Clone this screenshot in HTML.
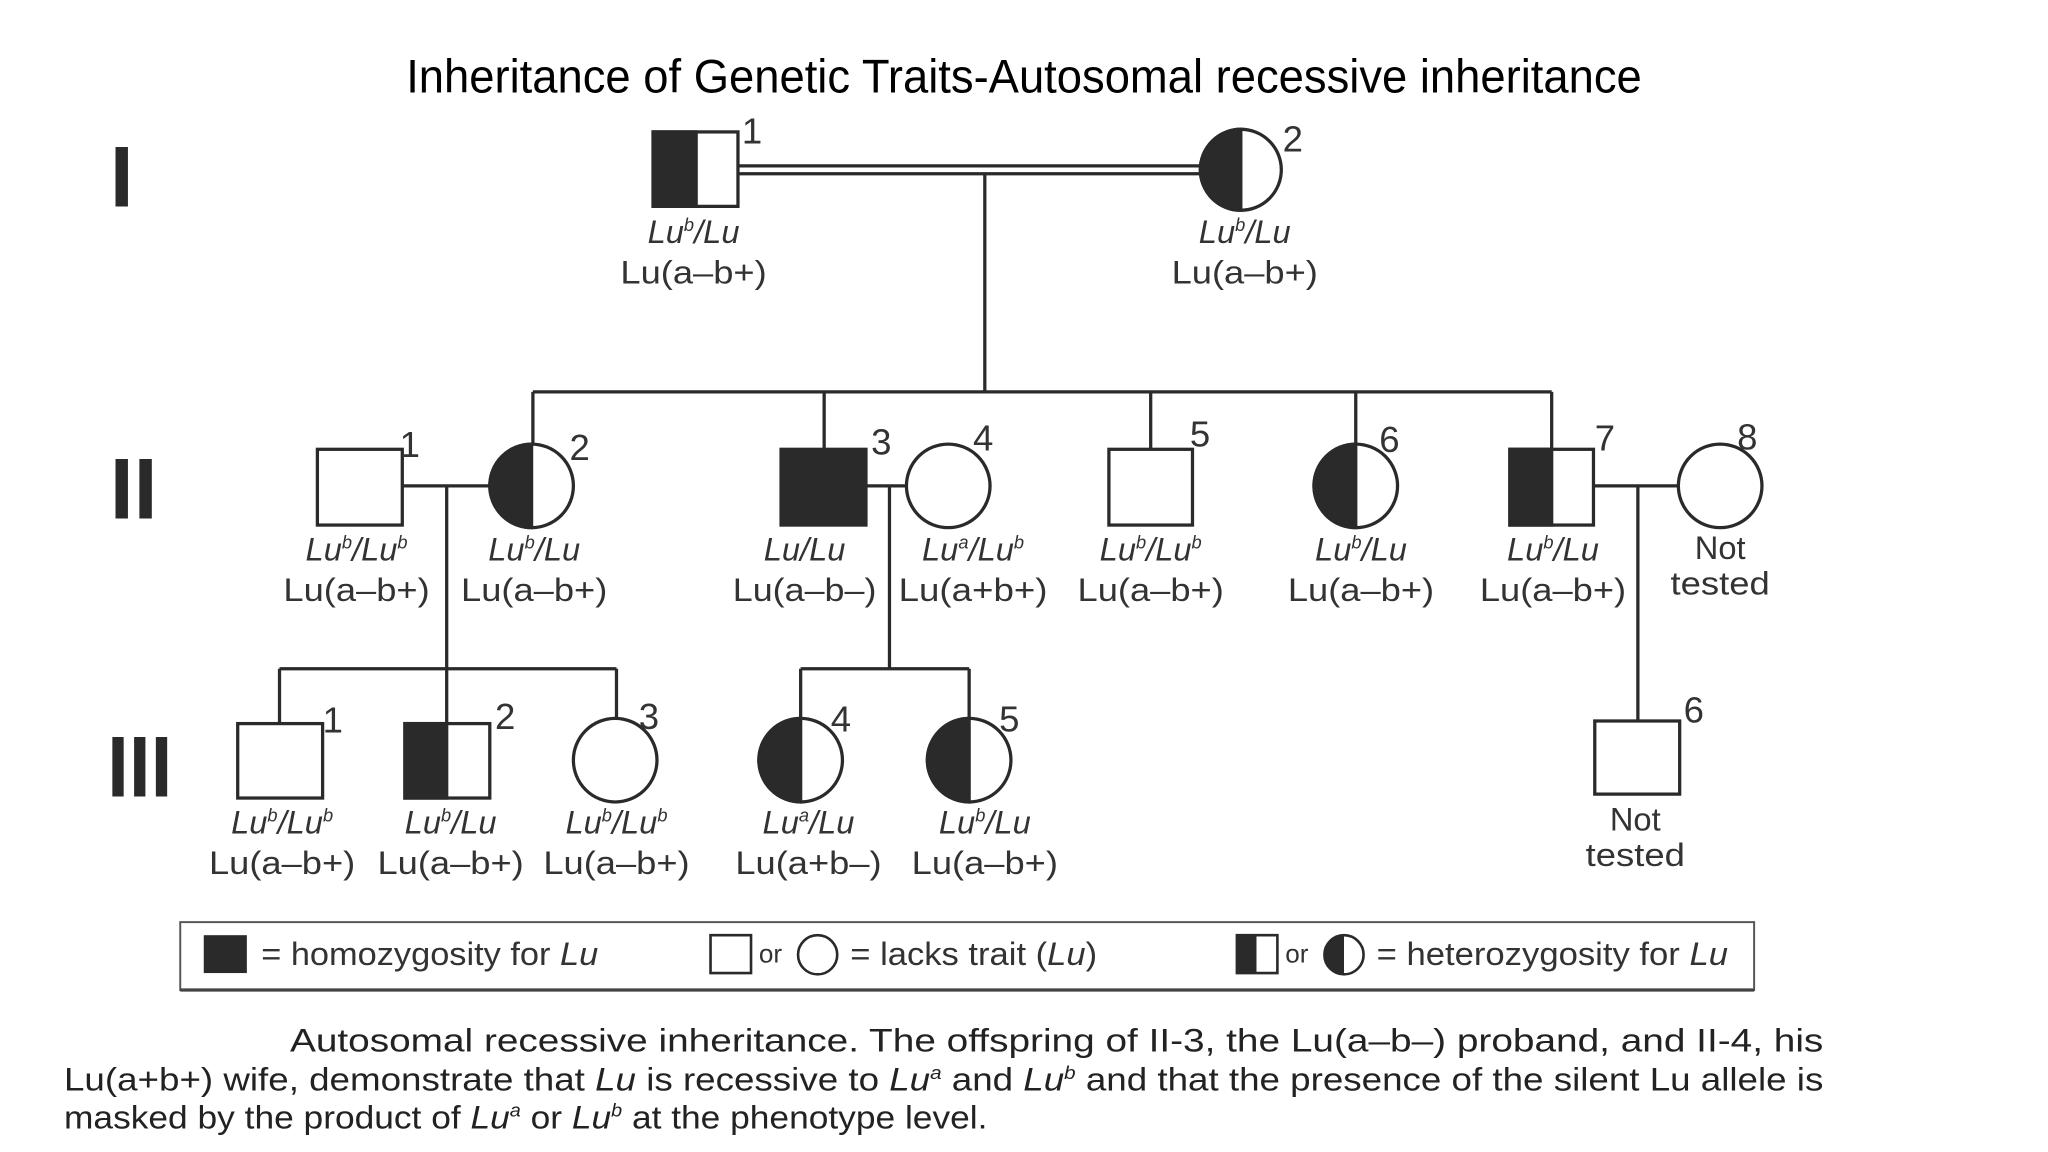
<!DOCTYPE html>
<html><head><meta charset="utf-8"><style>
html,body{margin:0;padding:0;background:#fff;}
svg{display:block;}
text{font-family:"Liberation Sans",sans-serif;fill:#333;}
.g{font-style:italic;font-size:25px;}
.p{font-size:25px;}
.n{font-size:28px;fill:#333;}
.r{font-weight:bold;font-size:66px;fill:#2a2a2a;}
.c{font-size:25px;fill:#222;}
</style></head><body>
<svg width="2048" height="1152" viewBox="0 0 1568 882" xmlns="http://www.w3.org/2000/svg">
<rect width="1568" height="882" fill="#fff"/>
<text x="784" y="71" text-anchor="middle" style="font-size:36px;fill:#000" textLength="946" lengthAdjust="spacingAndGlyphs">Inheritance of Genetic Traits-Autosomal recessive inheritance</text>

<text class="r" x="84" y="158">I</text>
<text class="r" x="84" y="397">II</text>
<text class="r" x="82" y="610" textLength="50" lengthAdjust="spacingAndGlyphs">III</text>

<g stroke="#2a2a2a" stroke-width="2.5" fill="none">
<line x1="565" y1="127" x2="918" y2="127"/>
<line x1="565" y1="133" x2="918" y2="133"/>
<line x1="754" y1="133" x2="754" y2="300"/>
<line x1="408" y1="300" x2="1188" y2="300"/>
<line x1="408" y1="300" x2="408" y2="340"/>
<line x1="631" y1="300" x2="631" y2="344"/>
<line x1="881" y1="300" x2="881" y2="344"/>
<line x1="1038" y1="300" x2="1038" y2="340"/>
<line x1="1188" y1="300" x2="1188" y2="344"/>
<line x1="308" y1="372" x2="374" y2="372"/>
<line x1="342" y1="372" x2="342" y2="554"/>
<line x1="214" y1="512" x2="472" y2="512"/>
<line x1="214" y1="512" x2="214" y2="554"/>
<line x1="472" y1="512" x2="472" y2="550"/>
<line x1="663" y1="372" x2="694" y2="372"/>
<line x1="681" y1="372" x2="681" y2="512"/>
<line x1="613" y1="512" x2="742" y2="512"/>
<line x1="613" y1="512" x2="613" y2="550"/>
<line x1="742" y1="512" x2="742" y2="550"/>
<line x1="1220" y1="372" x2="1285" y2="372"/>
<line x1="1254" y1="372" x2="1254" y2="552"/>
</g>

<g stroke="#2a2a2a" stroke-width="2.5">
<rect x="500" y="101" width="65" height="57" fill="#fff"/>
<rect x="500" y="101" width="33" height="57" fill="#2a2a2a"/>
<circle cx="950" cy="130" r="31" fill="#fff"/>
<path d="M950 99 A31 31 0 0 0 950 161 Z" fill="#2a2a2a"/>
<rect x="243" y="344" width="65" height="58" fill="#fff"/>
<circle cx="407" cy="372" r="32" fill="#fff"/>
<path d="M407 340 A32 32 0 0 0 407 404 Z" fill="#2a2a2a"/>
<rect x="598" y="344" width="65" height="58" fill="#2a2a2a"/>
<circle cx="726" cy="372" r="32" fill="#fff"/>
<rect x="849" y="344" width="64" height="58" fill="#fff"/>
<circle cx="1038" cy="372" r="32" fill="#fff"/>
<path d="M1038 340 A32 32 0 0 0 1038 404 Z" fill="#2a2a2a"/>
<rect x="1156" y="344" width="64" height="58" fill="#fff"/>
<rect x="1156" y="344" width="32" height="58" fill="#2a2a2a"/>
<circle cx="1317" cy="372" r="32" fill="#fff"/>
<rect x="182" y="554" width="65" height="57" fill="#fff"/>
<rect x="310" y="554" width="65" height="57" fill="#fff"/>
<rect x="310" y="554" width="32" height="57" fill="#2a2a2a"/>
<circle cx="471" cy="582" r="32" fill="#fff"/>
<circle cx="613" cy="582" r="32" fill="#fff"/>
<path d="M613 550 A32 32 0 0 0 613 614 Z" fill="#2a2a2a"/>
<circle cx="742" cy="582" r="32" fill="#fff"/>
<path d="M742 550 A32 32 0 0 0 742 614 Z" fill="#2a2a2a"/>
<rect x="1221" y="552" width="65" height="56" fill="#fff"/>
</g>

<g>
<text class="n" x="568" y="110">1</text>
<text class="n" x="982" y="116">2</text>
<text class="n" x="306" y="350">1</text>
<text class="n" x="436" y="352">2</text>
<text class="n" x="667" y="348">3</text>
<text class="n" x="745" y="345">4</text>
<text class="n" x="911" y="342">5</text>
<text class="n" x="1056" y="346">6</text>
<text class="n" x="1221" y="345">7</text>
<text class="n" x="1330" y="344">8</text>
<text class="n" x="247" y="561">1</text>
<text class="n" x="379" y="558">2</text>
<text class="n" x="489" y="558">3</text>
<text class="n" x="636" y="560">4</text>
<text class="n" x="765" y="560">5</text>
<text class="n" x="1289" y="553">6</text>
</g>

<text class="g" x="531" y="186" text-anchor="middle">Lu<tspan font-size="14" dy="-9">b</tspan><tspan dy="9">/Lu</tspan></text>
<text class="p" x="531" y="217" text-anchor="middle" textLength="112" lengthAdjust="spacingAndGlyphs">Lu(a–b+)</text>
<text class="g" x="953" y="186" text-anchor="middle">Lu<tspan font-size="14" dy="-9">b</tspan><tspan dy="9">/Lu</tspan></text>
<text class="p" x="953" y="217" text-anchor="middle" textLength="112" lengthAdjust="spacingAndGlyphs">Lu(a–b+)</text>

<text class="g" x="273" y="429" text-anchor="middle">Lu<tspan font-size="14" dy="-9">b</tspan><tspan dy="9">/Lu</tspan><tspan font-size="14" dy="-9">b</tspan></text>
<text class="p" x="273" y="460" text-anchor="middle" textLength="112" lengthAdjust="spacingAndGlyphs">Lu(a–b+)</text>
<text class="g" x="409" y="429" text-anchor="middle">Lu<tspan font-size="14" dy="-9">b</tspan><tspan dy="9">/Lu</tspan></text>
<text class="p" x="409" y="460" text-anchor="middle" textLength="112" lengthAdjust="spacingAndGlyphs">Lu(a–b+)</text>
<text class="g" x="616" y="429" text-anchor="middle">Lu/Lu</text>
<text class="p" x="616" y="460" text-anchor="middle" textLength="110" lengthAdjust="spacingAndGlyphs">Lu(a–b–)</text>
<text class="g" x="745" y="429" text-anchor="middle">Lu<tspan font-size="14" dy="-9">a</tspan><tspan dy="9">/Lu</tspan><tspan font-size="14" dy="-9">b</tspan></text>
<text class="p" x="745" y="460" text-anchor="middle" textLength="114" lengthAdjust="spacingAndGlyphs">Lu(a+b+)</text>
<text class="g" x="881" y="429" text-anchor="middle">Lu<tspan font-size="14" dy="-9">b</tspan><tspan dy="9">/Lu</tspan><tspan font-size="14" dy="-9">b</tspan></text>
<text class="p" x="881" y="460" text-anchor="middle" textLength="112" lengthAdjust="spacingAndGlyphs">Lu(a–b+)</text>
<text class="g" x="1042" y="429" text-anchor="middle">Lu<tspan font-size="14" dy="-9">b</tspan><tspan dy="9">/Lu</tspan></text>
<text class="p" x="1042" y="460" text-anchor="middle" textLength="112" lengthAdjust="spacingAndGlyphs">Lu(a–b+)</text>
<text class="g" x="1189" y="429" text-anchor="middle">Lu<tspan font-size="14" dy="-9">b</tspan><tspan dy="9">/Lu</tspan></text>
<text class="p" x="1189" y="460" text-anchor="middle" textLength="112" lengthAdjust="spacingAndGlyphs">Lu(a–b+)</text>
<text class="p" x="1317" y="428" text-anchor="middle">Not</text>
<text class="p" x="1317" y="455" text-anchor="middle" textLength="76" lengthAdjust="spacingAndGlyphs">tested</text>

<text class="g" x="216" y="638" text-anchor="middle">Lu<tspan font-size="14" dy="-9">b</tspan><tspan dy="9">/Lu</tspan><tspan font-size="14" dy="-9">b</tspan></text>
<text class="p" x="216" y="669" text-anchor="middle" textLength="112" lengthAdjust="spacingAndGlyphs">Lu(a–b+)</text>
<text class="g" x="345" y="638" text-anchor="middle">Lu<tspan font-size="14" dy="-9">b</tspan><tspan dy="9">/Lu</tspan></text>
<text class="p" x="345" y="669" text-anchor="middle" textLength="112" lengthAdjust="spacingAndGlyphs">Lu(a–b+)</text>
<text class="g" x="472" y="638" text-anchor="middle">Lu<tspan font-size="14" dy="-9">b</tspan><tspan dy="9">/Lu</tspan><tspan font-size="14" dy="-9">b</tspan></text>
<text class="p" x="472" y="669" text-anchor="middle" textLength="112" lengthAdjust="spacingAndGlyphs">Lu(a–b+)</text>
<text class="g" x="619" y="638" text-anchor="middle">Lu<tspan font-size="14" dy="-9">a</tspan><tspan dy="9">/Lu</tspan></text>
<text class="p" x="619" y="669" text-anchor="middle" textLength="112" lengthAdjust="spacingAndGlyphs">Lu(a+b–)</text>
<text class="g" x="754" y="638" text-anchor="middle">Lu<tspan font-size="14" dy="-9">b</tspan><tspan dy="9">/Lu</tspan></text>
<text class="p" x="754" y="669" text-anchor="middle" textLength="112" lengthAdjust="spacingAndGlyphs">Lu(a–b+)</text>
<text class="p" x="1252" y="636" text-anchor="middle">Not</text>
<text class="p" x="1252" y="663" text-anchor="middle" textLength="76" lengthAdjust="spacingAndGlyphs">tested</text>

<rect x="138" y="706" width="1205" height="52" fill="none" stroke="#555" stroke-width="1.5"/>
<line x1="138" y1="758" x2="1343" y2="758" stroke="#444" stroke-width="2.5"/>
<rect x="156" y="716" width="33" height="29" fill="#2a2a2a"/>
<text class="p" x="200" y="739" textLength="258" lengthAdjust="spacingAndGlyphs">= homozygosity for <tspan font-style="italic">Lu</tspan></text>
<rect x="544" y="716" width="31" height="29" fill="#fff" stroke="#2a2a2a" stroke-width="2"/>
<text x="581" y="737" style="font-size:20px">or</text>
<circle cx="626" cy="731" r="15" fill="#fff" stroke="#2a2a2a" stroke-width="2"/>
<text class="p" x="651" y="739" textLength="189" lengthAdjust="spacingAndGlyphs">= lacks trait (<tspan font-style="italic">Lu</tspan>)</text>
<rect x="947" y="716" width="31" height="29" fill="#fff" stroke="#2a2a2a" stroke-width="2"/>
<rect x="947" y="716" width="15" height="29" fill="#2a2a2a"/>
<text x="984" y="737" style="font-size:20px">or</text>
<circle cx="1029" cy="731" r="15" fill="#fff" stroke="#2a2a2a" stroke-width="2"/>
<path d="M1029 716 A15 15 0 0 0 1029 746 Z" fill="#2a2a2a"/>
<text class="p" x="1054" y="739" textLength="269" lengthAdjust="spacingAndGlyphs">= heterozygosity for <tspan font-style="italic">Lu</tspan></text>

<text class="c" x="222" y="805" textLength="1174" lengthAdjust="spacingAndGlyphs">Autosomal recessive inheritance. The offspring of II-3, the Lu(a–b–) proband, and II-4, his</text>
<text class="c" x="49" y="835" textLength="1347" lengthAdjust="spacingAndGlyphs">Lu(a+b+) wife, demonstrate that <tspan font-style="italic">Lu</tspan> is recessive to <tspan font-style="italic">Lu<tspan font-size="14" dy="-9">a</tspan></tspan><tspan dy="9"> and </tspan><tspan font-style="italic">Lu<tspan font-size="14" dy="-9">b</tspan></tspan><tspan dy="9"> and that the presence of the silent Lu allele is</tspan></text>
<text class="c" x="49" y="864" textLength="707" lengthAdjust="spacingAndGlyphs">masked by the product of <tspan font-style="italic">Lu<tspan font-size="14" dy="-9">a</tspan></tspan><tspan dy="9"> or </tspan><tspan font-style="italic">Lu<tspan font-size="14" dy="-9">b</tspan></tspan><tspan dy="9"> at the phenotype level.</tspan></text>
</svg>
</body></html>
